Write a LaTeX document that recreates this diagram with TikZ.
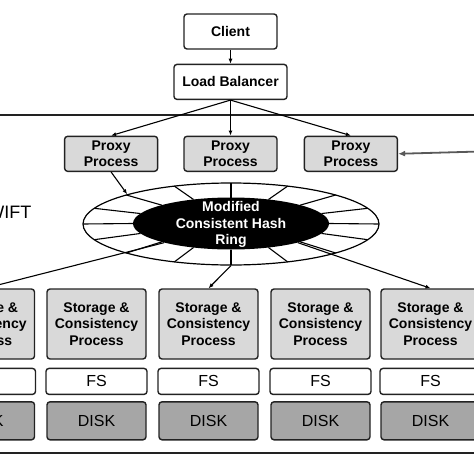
\documentclass[tikz,border=0pt]{standalone}
\usepackage{fontspec}
\setmainfont{Liberation Sans}
\usetikzlibrary{positioning,shapes.geometric,calc,arrows.meta}
\definecolor{procgray}{HTML}{D9D9D9}
\definecolor{diskgray}{HTML}{A6A6A6}
\definecolor{edgegray}{HTML}{222222}
\def\swiftframe{(-10,115) rectangle (484,453)}
\tikzset{
  box/.style={draw=edgegray, line width=1.4pt, rounded corners=3pt, align=center, inner sep=0pt,
    font=\fontsize{14}{16}\selectfont\bfseries},
  plainbox/.style={box, fill=white, minimum width=93pt, minimum height=35pt},
  proxybox/.style={box, fill=procgray, minimum width=93pt, minimum height=35pt},
  storebox/.style={box, fill=procgray, minimum width=99pt, minimum height=70pt,
    font=\fontsize{14}{16.5}\selectfont\bfseries},
  fsbox/.style={box, fill=white, minimum width=101pt, minimum height=26pt,
    font=\fontsize{16}{18}\selectfont},
  diskbox/.style={box, fill=diskgray, minimum width=99pt, minimum height=38pt,
    font=\fontsize{16}{18}\selectfont},
  link/.style={draw=black, line width=1.1pt, -{Latex[length=5pt,width=4pt]}},
  feed/.style={draw=black!65, line width=1.8pt, -{Latex[length=7pt,width=6pt]}},
  spoke/.style={draw=black, line width=1.1pt}
}

\begin{document}
\begin{tikzpicture}[x=1pt,y=-1pt]
    \clip (0,0) rectangle (474,474);
    \draw[edgegray, line width=1.3pt] \swiftframe;
    \node[anchor=east, font=\fontsize{18}{20}\selectfont] (swift) at (35,212) {SWIFT};

    % front end
    \node[plainbox] (client) at (230.5,31.5) {Client};
    \node[plainbox, minimum width=113pt, below=14pt of client] (lb) {Load Balancer};
    \node[proxybox, below=35.5pt of lb] (p2) {Proxy\\Process};
    \node[proxybox, left=25pt of p2] (p1) {Proxy\\Process};
    \node[proxybox, right=26pt of p2] (p3) {Proxy\\Process};
    \coordinate (ext) at (480,151.5);

    % hash ring
    \node[ellipse, draw=black, line width=1.2pt, fill=white, minimum width=296pt,
      minimum height=82pt, inner sep=0pt] (ring) at (231,224) {};
    \foreach \a in {0,22.5,...,337.5}
        \draw[spoke] ($(231,224)+(\a:148pt and 41pt)$) -- ($(231,223.5)+(\a:98pt and 26pt)$);
    \node[ellipse, fill=black, minimum width=196pt, minimum height=52pt, inner sep=0pt] (hub) at (231,223.5) {};
    \node[text=white, align=center, font=\fontsize{14}{16.5}\selectfont\bfseries] (hublabel) at (231,224.5)
      {Modified\\Consistent Hash\\Ring};

    % storage nodes
    \foreach \i/\x in {1/-15,2/96.5,3/208.5,4/320.5,5/430.5} {
        \node[storebox] (s\i) at (\x,324) {Storage \&\\Consistency\\Process};
        \node[fsbox, below=8pt of s\i] (fs\i) {FS};
        \node[diskbox, below=6pt of fs\i] (d\i) {DISK};
    }

    \draw[link] (client) -- (lb);
    \draw[link] (lb.south) -- (p1.north);
    \draw[link] (lb.south) -- (p2.north);
    \draw[link] (lb.south) -- (p3.north);
    \draw[feed] (ext) -- (p3.east);
    \draw[link] (p1.south) -- (ring.164);
    \draw[link] (hub.196) -- (s1.north);
    \draw[link] (ring.south) -- (s3.north);
    \draw[link] (hub.344) -- (s5.north);
\end{tikzpicture}
\end{document}
